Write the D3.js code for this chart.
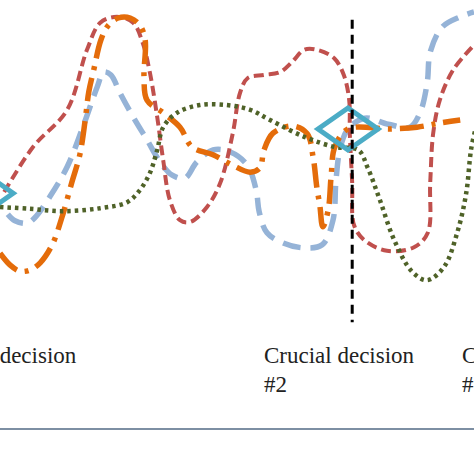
<!DOCTYPE html>
<html>
<head>
<meta charset="utf-8">
<script src="https://cdn.jsdelivr.net/npm/d3@7"></script>
<style>
  html, body { margin: 0; padding: 0; background: #fff; }
  svg { display: block; }
</style>
</head>
<body>
<div id="chart"></div>
<script>
// Curve values: [time, level]
const redSeries = [
  [0.7, 47], [5.5, 54.5], [11.2, 60.7], [14.5, 70.7], [16.7, 75.2], [19.5, 76.2],
  [22.2, 75.2], [23.8, 71.8], [25, 66.8], [26.2, 59.5], [27.2, 52.3], [28.3, 45.7],
  [30, 42.3], [31.7, 42], [34.5, 44.5], [36.7, 48.5], [38.8, 56.8], [40, 63.5],
  [41.3, 66], [44, 66.5], [46.7, 67], [48.7, 68.7], [50.7, 70.7], [52.8, 70.7],
  [55.7, 69.3], [57.3, 66.5], [58.2, 62.3], [58.3, 56.8], [58.7, 48.5], [59, 41.5],
  [60.7, 39], [64.5, 37.2], [69, 37.8], [71.3, 40.2], [71.7, 48.5], [72.2, 56.8],
  [73.3, 62.3], [75.5, 67.3], [79, 71.5]
];
const blueSeries = [
  [1.3, 43.3], [2.5, 42.2], [4.5, 41.8], [5.8, 42.7], [8.3, 46.2], [11.2, 51.2],
  [13.8, 57.8], [16.2, 64.5], [17.3, 67], [18.5, 66.5], [20, 63.5], [22.2, 59.5],
  [24.5, 55.7], [26.7, 52], [28.7, 49.8], [30.8, 49.3], [32.8, 52], [35.5, 54],
  [38.3, 53.7], [41.2, 51.5], [42.7, 47.3], [43.2, 43.7], [44.5, 40.2], [47.2, 38.5],
  [50.5, 37.7], [53.7, 38.2], [55.5, 42.3], [56, 49], [56.7, 54.3], [58, 57.5],
  [60.8, 59.3], [64.7, 58.3], [68.3, 57.8], [70, 60.2], [71.2, 65.2], [71.7, 70.3],
  [73.7, 74.5], [76.7, 76.2], [79, 77]
];
const orangeSeries = [
  [0, 36.8], [1.7, 34.8], [3.3, 33.8], [5, 34], [6.7, 35.2], [8.7, 38.2],
  [10.3, 42.7], [12, 48.7], [13.3, 53.2], [14.2, 59], [14.8, 63.7], [15.7, 67.7],
  [16.8, 72.3], [18, 74.7], [19.7, 76], [21.7, 76], [23.3, 74.8], [24.2, 72.3],
  [24, 66.2], [24.5, 62.3], [27.2, 60.2], [30, 57.8], [32, 54.5], [35.5, 53.2],
  [38.7, 51.5], [41.7, 50.3], [43.3, 51], [44, 54], [45.5, 56.8], [48.8, 58],
  [51.2, 56.7], [52.2, 52.7], [52.8, 47.8], [53.3, 44.8], [53.8, 41.2], [54.7, 44],
  [55.2, 49.8], [55.8, 54.5], [58, 57.5], [65, 57.5], [69.5, 57.8], [73.3, 58.5],
  [76.7, 59]
];
const greenSeries = [
  [0, 44.5], [5, 44.2], [10.5, 43.8], [16.7, 44.3], [21.2, 45.3], [23.3, 47.3],
  [25, 50.2], [26.2, 54], [27.2, 57.8], [29.5, 60.2], [33.3, 61.5], [37.8, 61.5],
  [41.7, 60.7], [45, 59], [50.7, 56.2], [55.8, 54.5], [59.7, 54], [61.3, 51],
  [63.3, 45.7], [65.7, 39], [68.7, 33.7], [71.2, 32.3], [74, 34.5], [76.2, 40.2],
  [77.7, 46.8], [78.5, 54], [79.2, 57.3]
];
// decision markers (diamonds) and the decision line
const markers = [[-2.8, 46.8], [58, 57.5]];
const decisionLine = { time: 58.7, from: 25.3, to: 75.7 };
const decisionLabels = [
  { time: -12.3, lines: ["Crucial decision", "#1"] },
  { time: 44, lines: ["Crucial decision", "#2"] },
  { time: 77, lines: ["Crucial decision", "#3"] }
];
const labelLevels = [18.5, 13.7];
const baseLevel = 7.5;

const width = 474, height = 474;

const series = [
  { data: blueSeries, color: "#95b3d7", width: 5.5, dash: "18,10" },
  { data: redSeries, color: "#c0504d", width: 4, dash: "10,5" },
  { data: orangeSeries, color: "#e46c0a", width: 5.5, dash: "24,8,4,8" },
  { data: greenSeries, color: "#4f6228", width: 4.5, dash: "3.5,4" }
];

const x = d3.scaleLinear().domain([0, 79]).range([0, width]);
const y = d3.scaleLinear().domain([0, 79]).range([height, 0]);

const svg = d3.select("#chart").append("svg")
  .attr("width", width)
  .attr("height", height);

svg.append("rect").attr("width", width).attr("height", height).attr("fill", "#fff");

const line = d3.line()
  .x((d) => x(d[0]))
  .y((d) => y(d[1]))
  .curve(d3.curveCatmullRom.alpha(0.5));

svg.selectAll(".curve").data(series).join("path")
  .attr("class", "curve")
  .attr("d", (s) => line(s.data))
  .attr("fill", "none")
  .attr("stroke", (s) => s.color)
  .attr("stroke-width", (s) => s.width)
  .attr("stroke-dasharray", (s) => s.dash);

// diamonds
const rx = 30, ry = 21;
svg.selectAll(".marker").data(markers).join("path")
  .attr("class", "marker")
  .attr("d", (d) => {
    const cx = x(d[0]), cy = y(d[1]);
    return `M${cx - rx},${cy}L${cx},${cy - ry}L${cx + rx},${cy}L${cx},${cy + ry}Z`;
  })
  .attr("fill", "none")
  .attr("stroke", "#4bacc6")
  .attr("stroke-width", 5)
  .attr("stroke-linejoin", "miter");

// decision line
svg.append("line")
  .attr("x1", x(decisionLine.time)).attr("x2", x(decisionLine.time))
  .attr("y1", y(decisionLine.to)).attr("y2", y(decisionLine.from))
  .attr("stroke", "#000")
  .attr("stroke-width", 3)
  .attr("stroke-dasharray", "9,6");

// labels
const label = svg.selectAll(".label").data(decisionLabels).join("text")
  .attr("class", "label")
  .attr("font-family", "'Liberation Serif', 'Times New Roman', serif")
  .attr("font-size", 23)
  .attr("fill", "#222");

label.selectAll("tspan").data((d) => d.lines.map((t, i) => ({ t, i, time: d.time }))).join("tspan")
  .attr("x", (d) => x(d.time))
  .attr("y", (d) => y(labelLevels[d.i]))
  .text((d) => d.t);

// base rule
svg.append("line")
  .attr("x1", 0).attr("x2", width)
  .attr("y1", y(baseLevel)).attr("y2", y(baseLevel))
  .attr("stroke", "#7d8fa3")
  .attr("stroke-width", 2);
</script>
</body>
</html>
